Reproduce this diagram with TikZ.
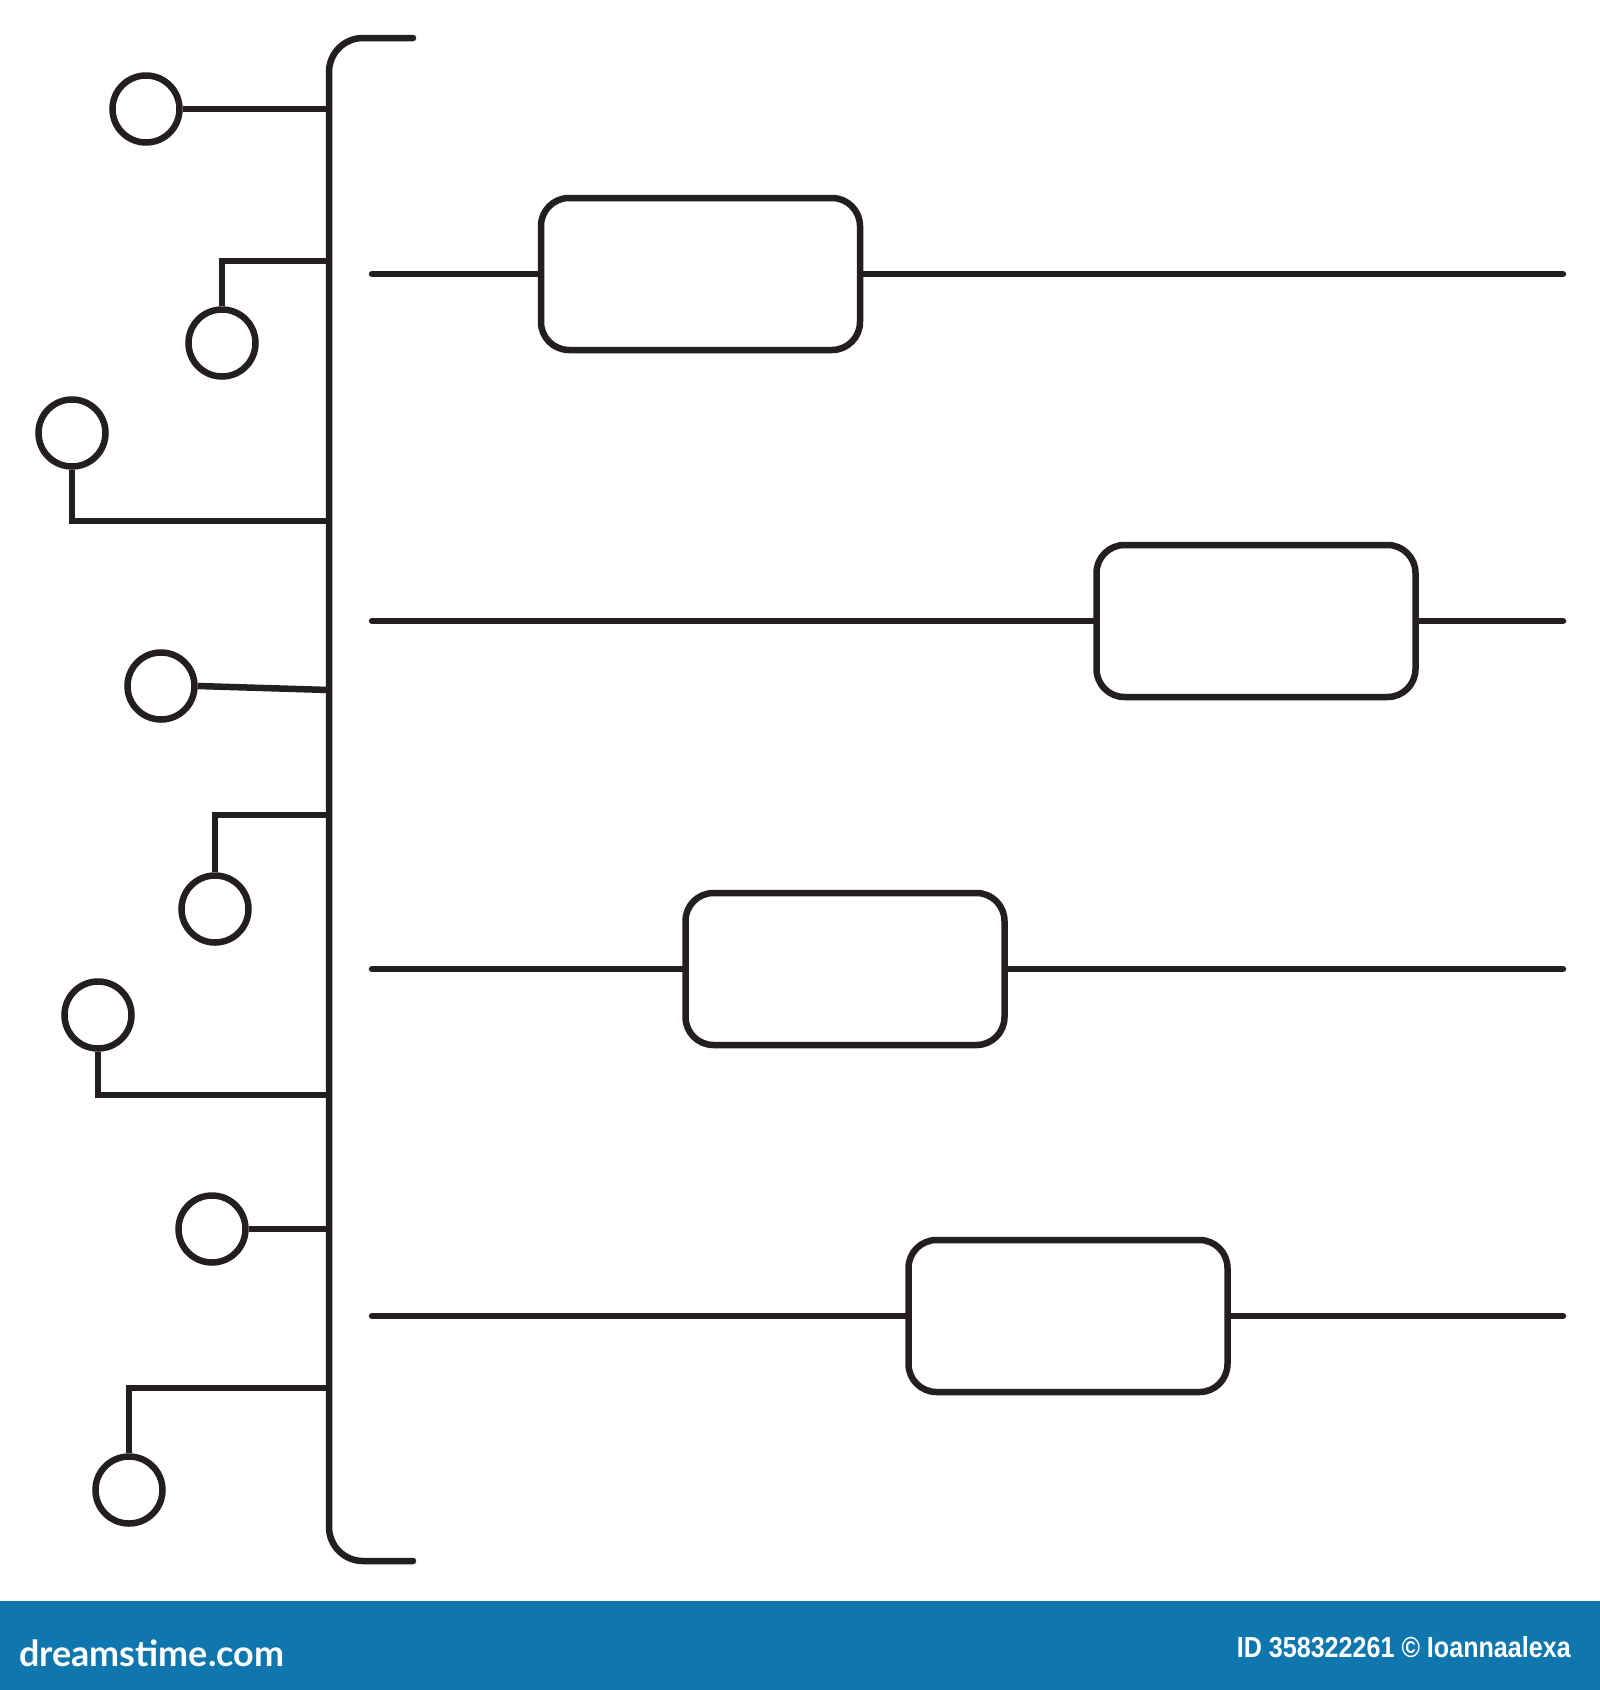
\documentclass[tikz,border=0pt]{standalone}
\usepackage{fontspec}
\setmainfont{Liberation Sans}
\newfontfamily\logofont{Lato}
\definecolor{ink}{RGB}{35,31,32}
\definecolor{banner}{RGB}{16,118,174}
\tikzset{
  wire/.style={draw=ink, line width=6.5pt, line cap=round},
  bar/.style={draw=ink, line width=6.5pt},
  box/.style={draw=ink, line width=6.5pt, rounded corners=28pt, minimum width=319pt,
              minimum height=152pt, inner sep=0pt, fill=white},
  dot/.style={circle, draw=ink, line width=6.5pt, minimum size=67pt, inner sep=0pt, fill=white},
}
\begin{document}
\begin{tikzpicture}[x=1pt,y=-1pt]
\useasboundingbox (0,0) rectangle (1600,1690);
\fill[white] (0,0) rectangle (1600,1601);
\fill[banner] (0,1601) rectangle (1600,1690);

% bracket
\coordinate (bt) at (413,38);
\coordinate (bb) at (413,1561);
\draw[wire, rounded corners=34pt] (bt) -- (329,38) -- (329,1561) -- (bb);

% horizontal rails and boxes
\node[box] (b1) at (700.5,274) {};
\node[box] (b2) at (1256,621) {};
\node[box] (b3) at (845,969) {};
\node[box] (b4) at (1068,1316) {};
\coordinate (l1s) at (372,274);  \coordinate (l1e) at (1563,274);
\coordinate (l2s) at (372,621);  \coordinate (l2e) at (1563,621);
\coordinate (l3s) at (372,969);  \coordinate (l3e) at (1563,969);
\coordinate (l4s) at (372,1316); \coordinate (l4e) at (1563,1316);
\draw[wire] (l1s) -- (b1.west); \draw[wire] (b1.east) -- (l1e);
\draw[wire] (l2s) -- (b2.west); \draw[wire] (b2.east) -- (l2e);
\draw[wire] (l3s) -- (b3.west); \draw[wire] (b3.east) -- (l3e);
\draw[wire] (l4s) -- (b4.west); \draw[wire] (b4.east) -- (l4e);

% circles
\node[dot] (c1) at (146,109) {};
\node[dot] (c2) at (222,343) {};
\node[dot] (c3) at (72,433) {};
\node[dot] (c4) at (161,686) {};
\node[dot] (c5) at (215,909) {};
\node[dot] (c6) at (98,1015) {};
\node[dot] (c7) at (212,1229) {};
\node[dot] (c8) at (129,1490) {};

% junctions on the bracket
\coordinate (j1) at (329,109);
\coordinate (j2) at (329,261);
\coordinate (j3) at (329,521);
\coordinate (j4) at (329,690);
\coordinate (j5) at (329,815);
\coordinate (j6) at (329,1095);
\coordinate (j7) at (329,1229);
\coordinate (j8) at (329,1388);
\draw[bar] (c1.east) -- (j1);
\draw[bar] (j2) -| (c2.north);
\draw[bar] (c3.south) |- (j3);
\draw[bar] (c4.east) -- (j4);
\draw[bar] (j5) -| (c5.north);
\draw[bar] (c6.south) |- (j6);
\draw[bar] (c7.east) -- (j7);
\draw[bar] (j8) -| (c8.north);

% banner texts
\node[anchor=base west, inner sep=0pt, text=white] (logo) at (19,1666)
  {\resizebox{265pt}{!}{\logofont\bfseries dreamstime.com}};
\node[anchor=base east, inner sep=0pt, text=white] (credit) at (1571,1657)
  {\resizebox{334pt}{21pt}{\bfseries ID 358322261 © Ioannaalexa}};
\end{tikzpicture}
\end{document}
